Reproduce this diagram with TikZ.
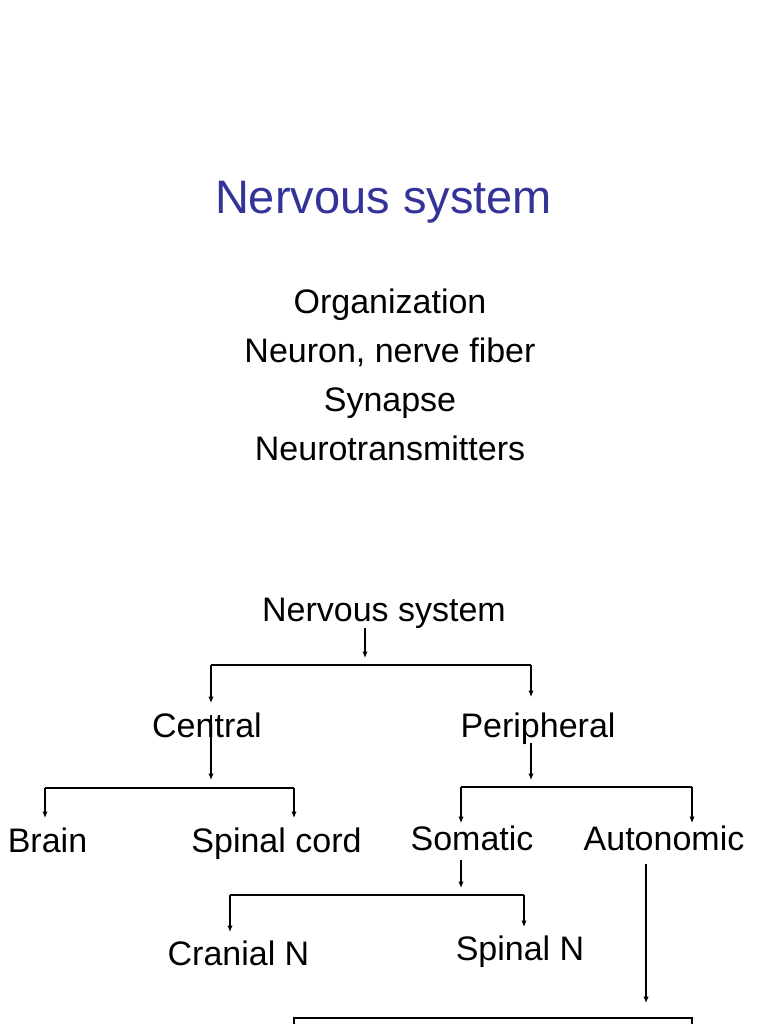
\documentclass[tikz,border=0pt]{standalone}
\usepackage{fontspec}
\setmainfont{Liberation Sans}
\usetikzlibrary{arrows.meta}
\definecolor{titleblue}{RGB}{51,51,153}
\begin{document}
\begin{tikzpicture}[x=1pt,y=-1pt,
  lbl/.style={anchor=base,inner sep=0pt,font=\fontsize{34}{40}\selectfont},
  ttl/.style={anchor=base,inner sep=0pt,text=titleblue,font=\fontsize{47}{55}\selectfont},
  link/.style={line width=1.2pt,black},
  arr/.style={link,-{Latex[length=6.5pt,width=5.5pt]}}]
\useasboundingbox (0,0) rectangle (768,1024);
\fill[white] (0,0) rectangle (768,1024);
% title and list
\node[ttl] (title) at (383.5,214) {Nervous system};
\node[lbl] (l1) at (390,313) {Organization};
\node[lbl] (l2) at (390,362) {Neuron, nerve fiber};
\node[lbl] (l3) at (390,411) {Synapse};
\node[lbl] (l4) at (390,460) {Neurotransmitters};
% tree nodes
\node[lbl] (ns) at (384,621) {Nervous system};
\node[lbl] (central) at (207,737) {Central};
\node[lbl] (periph) at (538,737) {Peripheral};
\node[lbl] (brain) at (47.5,852) {Brain};
\node[lbl] (cord) at (276.5,852) {Spinal cord};
\node[lbl] (somatic) at (472,850) {Somatic};
\node[lbl] (auto) at (664,850) {Autonomic};
\node[lbl] (cranial) at (238.5,965) {Cranial N};
\node[lbl] (spinaln) at (520,960) {Spinal N};
% bus coordinates
\coordinate (b1l) at (211,665); \coordinate (b1r) at (531,665);
\coordinate (b2l) at (45,788);  \coordinate (b2r) at (294,788);
\coordinate (b3l) at (461,787); \coordinate (b3r) at (692,787);
\coordinate (b4l) at (230,895); \coordinate (b4r) at (524,895);
\coordinate (b5l) at (294,1018); \coordinate (b5r) at (692,1018);
% connectors
\draw[arr] (ns.base -| 365,0) ++(0,7) -- (365,658);
\draw[link] (b1l) -- (b1r);
\draw[arr] (b1l) -- (211,703);
\draw[arr] (b1r) -- (531,697);
\draw[arr] (central.base -| 211,0) ++(0,-22) -- (211,780);
\draw[arr] (periph.base -| 531,0) ++(0,6) -- (531,780);
\draw[link] (b2l) -- (b2r);
\draw[arr] (b2l) -- (45,818);
\draw[arr] (b2r) -- (294,818);
\draw[link] (b3l) -- (b3r);
\draw[arr] (b3l) -- (461,823);
\draw[arr] (b3r) -- (692,823);
\draw[arr] (somatic.base -| 461,0) ++(0,10) -- (461,888);
\draw[link] (b4l) -- (b4r);
\draw[arr] (b4l) -- (230,932);
\draw[arr] (b4r) -- (524,927);
\draw[arr] (auto.base -| 646,0) ++(0,14) -- (646,1003);
\draw[link] (294,1030) -- (b5l) -- (b5r) -- (692,1030);
\end{tikzpicture}
\end{document}
